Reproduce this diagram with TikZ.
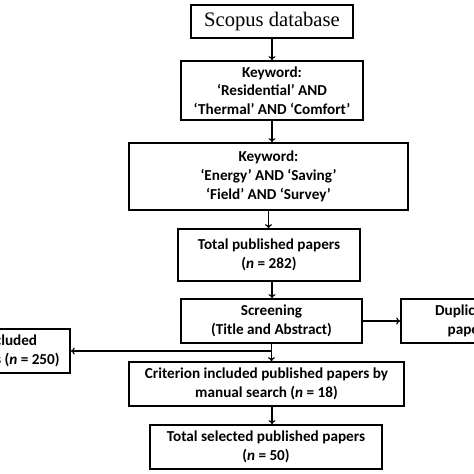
\documentclass[tikz,border=0pt]{standalone}
\usepackage{fontspec}
\setmainfont{Carlito}
\newfontfamily\scopusfont{Liberation Serif}
\usepackage{tikz}
\usetikzlibrary{positioning,arrows.meta}

\begin{document}
\begin{tikzpicture}[
  x=1pt, y=-1pt,
  box/.style={rectangle,draw=black,line width=1.6pt,align=center,inner sep=2pt,
              font=\bfseries\fontsize{15.2}{18.7}\selectfont},
  arr/.style={-{To[length=4pt,width=7pt]},line width=1.2pt,black}
]
\path[use as bounding box,clip] (0,0) rectangle (474,474);
\node[box,minimum width=162pt,minimum height=33pt,font=\scopusfont\fontsize{20.6}{22}\selectfont] (db) at (272,21.5) {Scopus database};
\node[box,minimum width=182pt,minimum height=59pt] (kw1) at (272,90.5) {Keyword:\\ `Residential' AND\\ `Thermal' AND `Comfort'};
\node[box,minimum width=279pt,minimum height=67pt] (kw2) at (268.5,176.5) {Keyword:\\ `Energy' AND `Saving'\\ `Field' AND `Survey'};
\node[box,minimum width=182pt,minimum height=52pt] (tot) at (269,255) {Total published papers\\ (\textit{n} = 282)};
\node[box,minimum width=181pt,minimum height=44pt] (scr) at (271.5,321) {Screening\\ (Title and Abstract)};
\node[box,minimum width=136pt,minimum height=44pt] (dup) at (469,321) {Duplicated\\ papers};
\node[box,minimum width=122pt,minimum height=44pt] (exc) at (9,351) {Excluded\\ papers (\textit{n} = 250)};
\node[box,minimum width=275pt,minimum height=44pt] (man) at (266.5,384) {Criterion included published papers by\\ manual search (\textit{n} = 18)};
\node[box,minimum width=232pt,minimum height=44pt] (sel) at (266,447) {Total selected published papers\\ (\textit{n} = 50)};
\draw[arr] (db.south) -- (db.south |- kw1.north);
\draw[arr] (kw1.south) -- (kw1.south |- kw2.north);
\draw[arr] (kw2.south) -- (kw2.south |- tot.north);
\draw[arr] ([xshift=3pt]tot.south) -- ([xshift=3pt]tot.south |- scr.north);
\draw[arr] (scr.east) -- (dup.west);
\draw[arr] (scr.south) -- (scr.south |- man.north);
\draw[arr] (scr.south |- exc.east) -- (exc.east);
\draw[arr] ([xshift=5.5pt]man.south) -- ([xshift=5.5pt]man.south |- sel.north);
\end{tikzpicture}
\end{document}
